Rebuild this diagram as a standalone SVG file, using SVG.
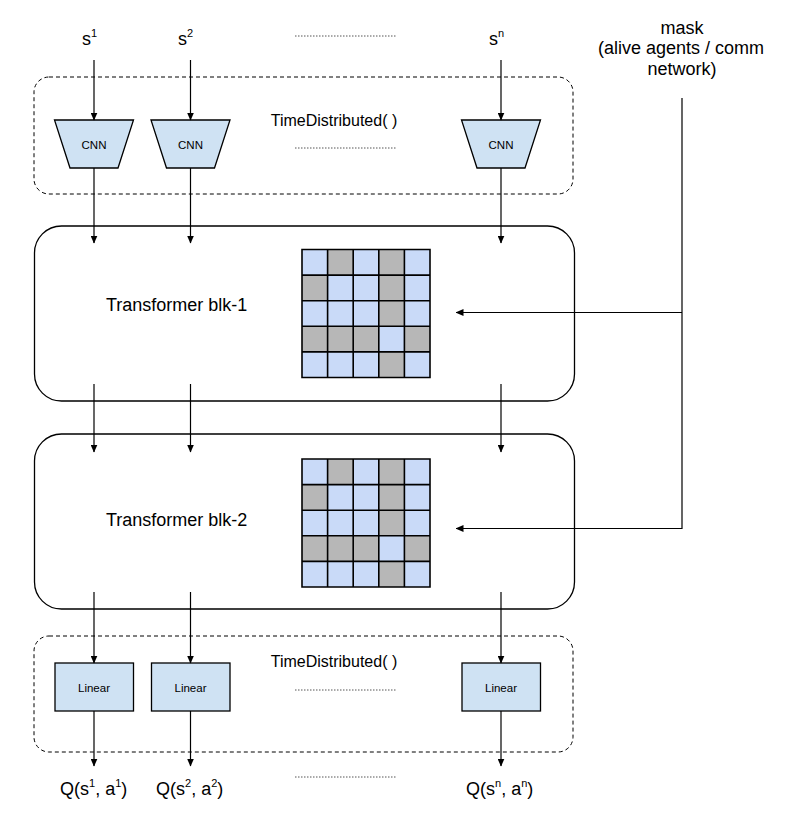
<svg xmlns="http://www.w3.org/2000/svg" width="789" height="829" viewBox="0 0 789 829">
<defs>
<style>
text{font-family:"Liberation Sans",Arial,sans-serif;fill:#000}
.lbl{font-size:18px}
.sup{font-size:11px}
.small{font-size:11.5px;text-anchor:middle}
.td{font-size:16px;text-anchor:middle}
.dash{fill:none;stroke:#000;stroke-width:1;stroke-dasharray:4 3}
.dot{fill:none;stroke:#555;stroke-width:1;stroke-dasharray:1.5 1.5}
.blk{fill:#fff;stroke:#000;stroke-width:1.3}
.node{fill:#cfe2f3;stroke:#000;stroke-width:1.3}
.con{fill:none;stroke:#000;stroke-width:1.2;marker-end:url(#ah)}
.b{fill:#c9daf8}
.g{fill:#b7b7b7}
.grid{fill:none;stroke:#000;stroke-width:1.6}
</style>
<marker id="ah" markerWidth="8" markerHeight="7" refX="7.5" refY="3.5" orient="auto" markerUnits="userSpaceOnUse">
<path d="M0,0 L8,3.5 L0,7 z" fill="#000"/>
</marker>
<g id="mat">
<rect class="b" x="0" y="0" width="128" height="128"/>
<rect class="g" x="25.6" y="0" width="25.6" height="25.6"/>
<rect class="g" x="76.8" y="0" width="25.6" height="25.6"/>
<rect class="g" x="0" y="25.6" width="25.6" height="25.6"/>
<rect class="g" x="76.8" y="25.6" width="25.6" height="25.6"/>
<rect class="g" x="76.8" y="51.2" width="25.6" height="25.6"/>
<rect class="g" x="0" y="76.8" width="76.8" height="25.6"/>
<rect class="g" x="102.4" y="76.8" width="25.6" height="25.6"/>
<rect class="g" x="76.8" y="102.4" width="25.6" height="25.6"/>
<path class="grid" d="M0,0H128V128H0Z M25.6,0V128 M51.2,0V128 M76.8,0V128 M102.4,0V128 M0,25.6H128 M0,51.2H128 M0,76.8H128 M0,102.4H128"/>
</g>
</defs>
<rect width="789" height="829" fill="#fff"/>

<g id="groups">
<rect id="td-top" class="dash" x="34" y="77" width="539" height="117" rx="15"/>
<rect id="td-bottom" class="dash" x="34" y="636" width="539" height="116" rx="15"/>
</g>

<g id="transformer1">
<rect class="blk" x="34.5" y="226" width="540" height="175" rx="27"/>
<text class="lbl" x="106" y="311">Transformer blk-1</text>
<use href="#mat" x="302" y="249.5"/>
</g>
<g id="transformer2">
<rect class="blk" x="34.5" y="434" width="540" height="175" rx="27"/>
<text class="lbl" x="106" y="526">Transformer blk-2</text>
<use href="#mat" x="302" y="459"/>
</g>

<g id="inputs">
<text class="lbl" x="82" y="45">s<tspan class="sup" dy="-8">1</tspan></text>
<text class="lbl" x="178" y="45">s<tspan class="sup" dy="-8">2</tspan></text>
<text class="lbl" x="489" y="45">s<tspan class="sup" dy="-8">n</tspan></text>
<line class="dot" x1="295" y1="36" x2="396" y2="36"/>
</g>

<g id="mask">
<text class="lbl" x="682" y="34" text-anchor="middle">mask</text>
<text class="lbl" x="681" y="54" text-anchor="middle">(alive agents / comm</text>
<text class="lbl" x="682" y="75" text-anchor="middle">network)</text>
</g>

<g id="cnn1">
<path class="node" d="M54.5,120 H133.5 L118,168 H70 Z"/>
<text class="small" x="94" y="149">CNN</text>
</g>
<g id="cnn2">
<path class="node" d="M151,120 H230 L214.5,168 H166.5 Z"/>
<text class="small" x="190.5" y="149">CNN</text>
</g>
<g id="cnnn">
<path class="node" d="M461.5,120 H540.5 L525,168 H477 Z"/>
<text class="small" x="501" y="149">CNN</text>
</g>
<g id="td-top-label">
<text class="td" x="334" y="126">TimeDistributed( )</text>
<line class="dot" x1="295" y1="148" x2="396" y2="148"/>
</g>

<g id="linear1">
<rect class="node" x="55" y="663" width="78.5" height="48"/>
<text class="small" x="94" y="691.5">Linear</text>
</g>
<g id="linear2">
<rect class="node" x="151.5" y="663" width="78.5" height="48"/>
<text class="small" x="190.5" y="691.5">Linear</text>
</g>
<g id="linearn">
<rect class="node" x="462" y="663" width="78.5" height="48"/>
<text class="small" x="501" y="691.5">Linear</text>
</g>
<g id="td-bottom-label">
<text class="td" x="334" y="667">TimeDistributed( )</text>
<line class="dot" x1="295" y1="690" x2="396" y2="690"/>
</g>

<g id="outputs">
<text class="lbl" x="60" y="795">Q(s<tspan class="sup" dy="-8">1</tspan><tspan dy="8">, a</tspan><tspan class="sup" dy="-8">1</tspan><tspan dy="8">)</tspan></text>
<text class="lbl" x="156" y="795">Q(s<tspan class="sup" dy="-8">2</tspan><tspan dy="8">, a</tspan><tspan class="sup" dy="-8">2</tspan><tspan dy="8">)</tspan></text>
<text class="lbl" x="466" y="795">Q(s<tspan class="sup" dy="-8">n</tspan><tspan dy="8">, a</tspan><tspan class="sup" dy="-8">n</tspan><tspan dy="8">)</tspan></text>
<line class="dot" x1="295" y1="777" x2="396" y2="777"/>
</g>

<g id="connectors">
<line class="con" x1="94" y1="60" x2="94" y2="120"/>
<line class="con" x1="190.5" y1="60" x2="190.5" y2="120"/>
<line class="con" x1="501" y1="60" x2="501" y2="120"/>
<line class="con" x1="94" y1="168" x2="94" y2="243"/>
<line class="con" x1="190.5" y1="168" x2="190.5" y2="243"/>
<line class="con" x1="501" y1="168" x2="501" y2="243"/>
<line class="con" x1="94" y1="384" x2="94" y2="452"/>
<line class="con" x1="190.5" y1="384" x2="190.5" y2="452"/>
<line class="con" x1="501" y1="384" x2="501" y2="452"/>
<line class="con" x1="94" y1="592" x2="94" y2="663"/>
<line class="con" x1="190.5" y1="592" x2="190.5" y2="663"/>
<line class="con" x1="501" y1="592" x2="501" y2="663"/>
<line class="con" x1="94" y1="711" x2="94" y2="766"/>
<line class="con" x1="190.5" y1="711" x2="190.5" y2="766"/>
<line class="con" x1="501" y1="711" x2="501" y2="766"/>
<path class="con" d="M682,98 V528.5 H456"/>
<path class="con" d="M682,312.5 H456"/>
</g>
</svg>
